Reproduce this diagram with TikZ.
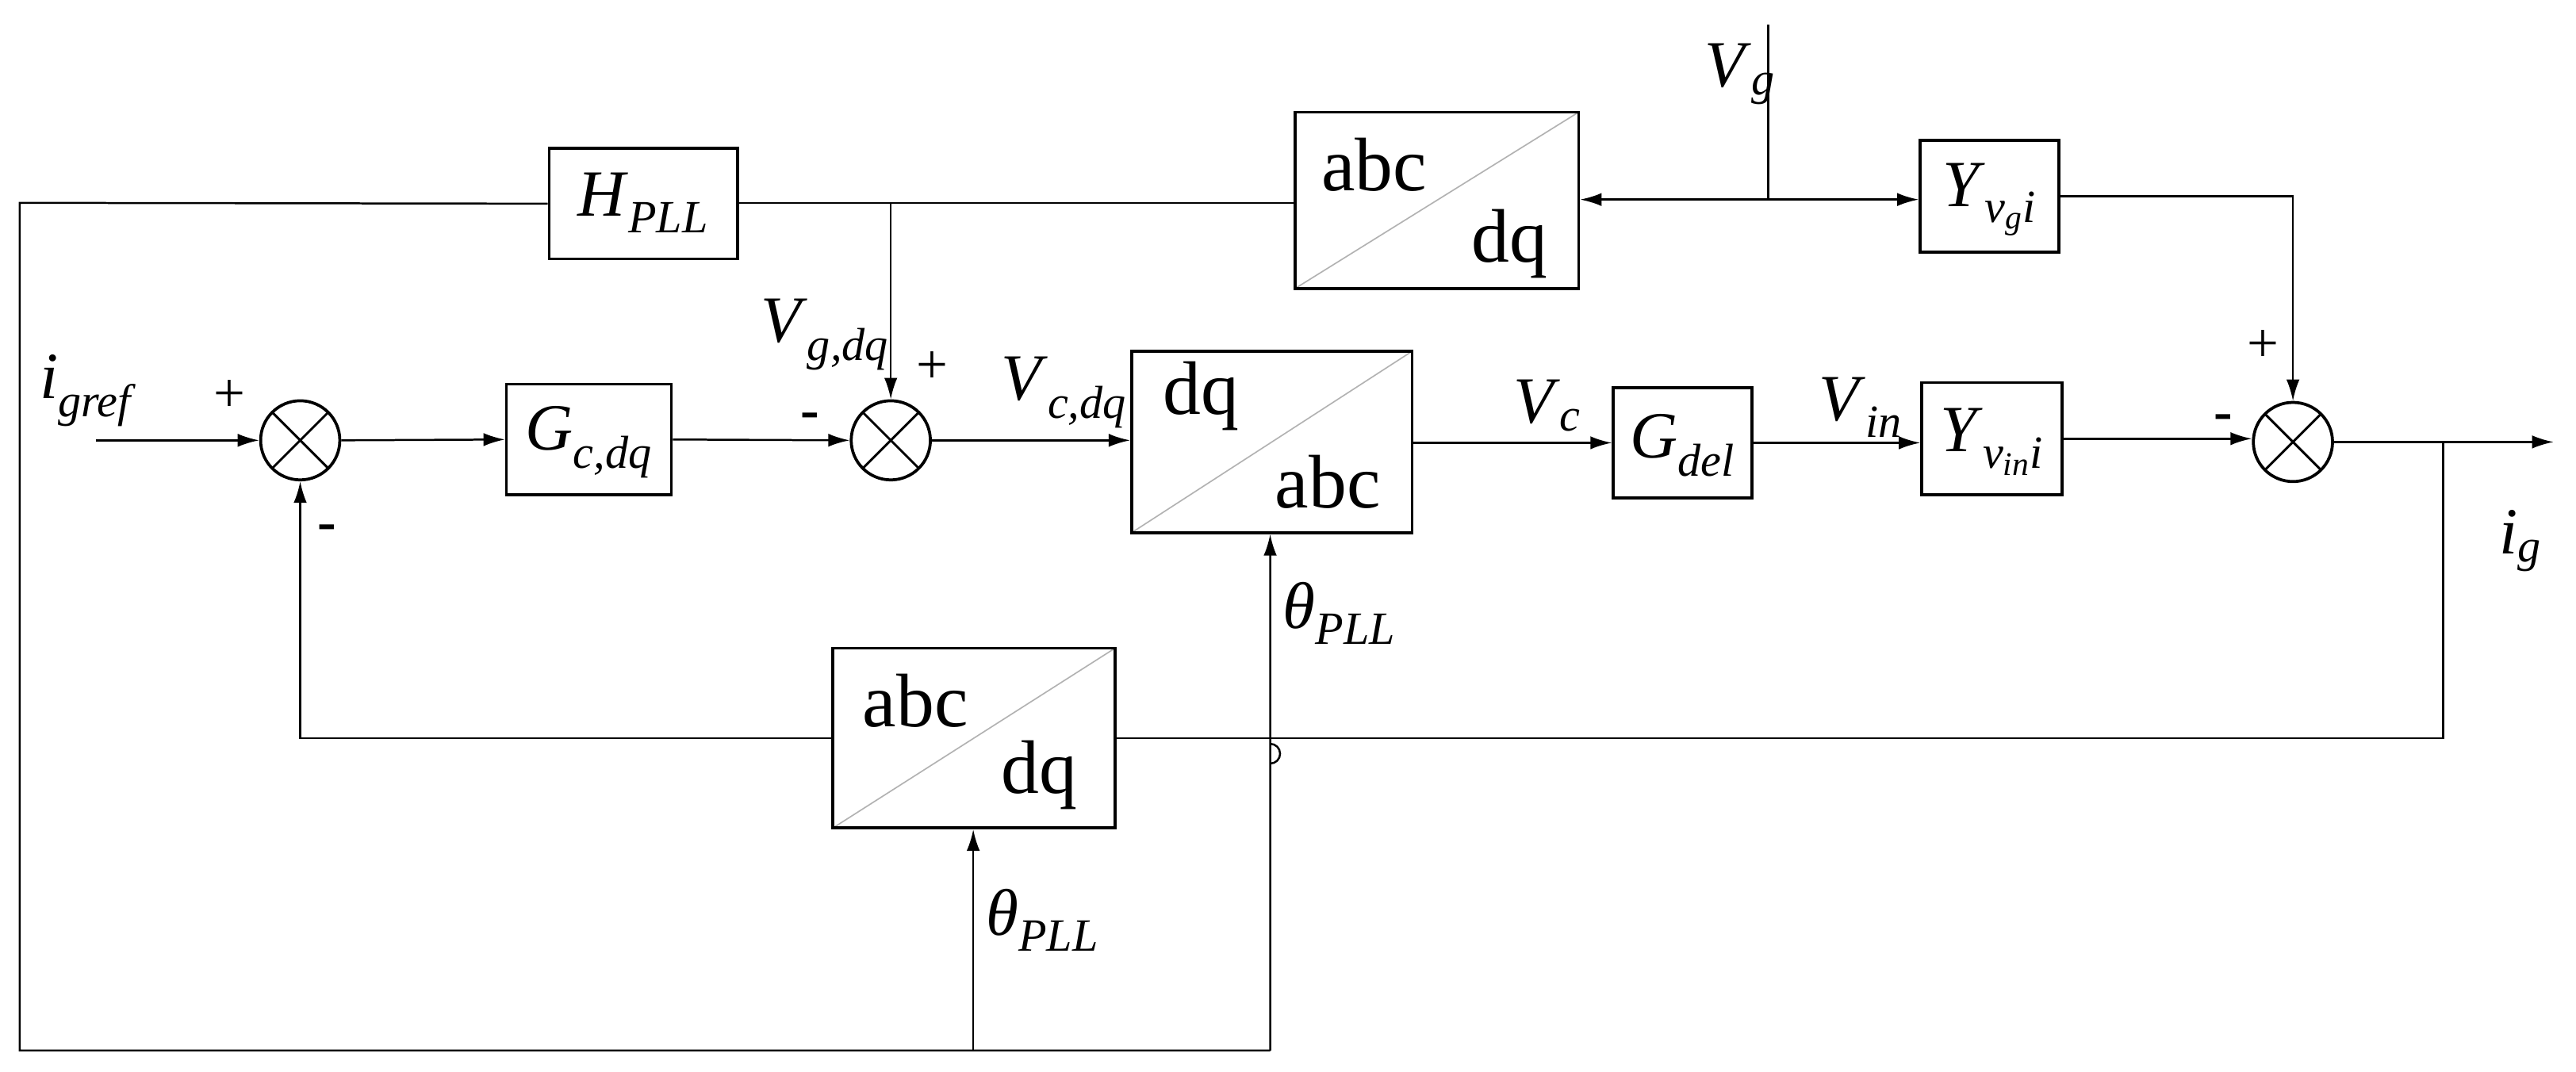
\documentclass[tikz,border=0pt]{standalone}
\usepackage{amsmath}
\usepackage{fontspec}
\setmainfont{Liberation Serif}
\usetikzlibrary{arrows.meta}
\begin{document}
\begin{tikzpicture}[x=1pt,y=-1pt,
  ln/.style={line width=1.2pt},
  arr/.style={ln,-{Latex[length=13pt,width=8pt]}},
  blk/.style={draw,line width=1.8pt,inner sep=0pt},
  conv/.style={blk,path picture={\draw[gray!60,line width=0.8pt](path picture bounding box.south west)--(path picture bounding box.north east);}},
  sumn/.style={draw,circle,line width=1.8pt,minimum size=48pt,inner sep=0pt,path picture={
     \draw[line width=1.4pt](path picture bounding box.south west)--(path picture bounding box.north east)
     (path picture bounding box.north west)--(path picture bounding box.south east);}},
  bt/.style={font=\fontsize{46}{50}\selectfont,inner sep=0pt},
  lb/.style={font=\fontsize{40}{44}\selectfont,inner sep=0pt},
  sg/.style={font=\fontsize{34}{38}\selectfont,inner sep=0pt}]
\useasboundingbox (0,0) rectangle (1561.6,650);
% blocks
\node[blk,minimum width=114pt,minimum height=67pt] (H) at (390,123.5) {};
\node[lb] (Ht) at (390,123) {\textit{H}$_{\textit{PLL}}$};
\node[conv,minimum width=172pt,minimum height=107pt] (T1) at (871,121.5) {};
\node[bt] (T1a) at (833,100) {abc};
\node[bt] (T1b) at (915,148) {dq};
\node[blk,minimum width=84pt,minimum height=68pt] (Yg) at (1206,119) {};
\node[lb] (Ygt) at (1206,121) {\textit{Y}$_{\textit{v}_{\textit{g}}\textit{i}}$};
\node[sumn] (S1) at (182,267) {};
\node[blk,minimum width=100pt,minimum height=67pt] (Gc) at (357,266.5) {};
\node[lb] (Gct) at (357,268) {\textit{G}$_{\textit{c,dq}}$};
\node[sumn] (S2) at (540,267) {};
\node[conv,minimum width=170pt,minimum height=110pt] (T2) at (771,268) {};
\node[bt] (T2a) at (728,240) {dq};
\node[bt] (T2b) at (805,292) {abc};
\node[blk,minimum width=84pt,minimum height=67pt] (Gd) at (1020,268.5) {};
\node[lb] (Gdt) at (1020,270) {\textit{G}$_{\textit{del}}$};
\node[blk,minimum width=85pt,minimum height=68pt] (Yi) at (1207.5,266) {};
\node[lb] (Yit) at (1207.5,268) {\textit{Y}$_{\textit{v}_{\textit{in}}\textit{i}}$};
\node[sumn] (S3) at (1390,268) {};
\node[conv,minimum width=171pt,minimum height=109pt] (T3) at (590.5,447.5) {};
\node[bt] (T3a) at (555,425) {abc};
\node[bt] (T3b) at (630,470) {dq};
% coordinates
\coordinate (in) at (58,267);
\coordinate (out) at (1548,268);
\coordinate (TL) at (12,123);
\coordinate (BL) at (12,637);
\coordinate (vgt) at (1072,15);
\coordinate (vgj) at (1072,121);
\coordinate (br2) at (540,123);
\coordinate (br3) at (1481,268);
\coordinate (th1) at (590,637);
\coordinate (th2) at (770,637);
% connectors
\draw[ln] (H.west) -- (TL) -- (BL) -- (th2);
\draw[arr] (th1) -- (T3.south -| th1);
\draw[arr] (th2) -- (770,451) arc[start angle=90,end angle=-90,radius=6pt] -- (T2.south -| th2);
\draw[ln] (H.east |- br2) -- (T1.west |- br2);
\draw[arr] (br2) -- (S2.north);
\draw[ln] (vgt) -- (vgj);
\draw[arr] (vgj) -- (T1.east |- vgj);
\draw[arr] (vgj) -- (Yg.west |- vgj);
\draw[arr] (Yg.east) -| (S3.north);
\draw[arr] (in) -- (S1.west);
\draw[arr] (S1.east) -- (Gc.west);
\draw[arr] (Gc.east) -- (S2.west);
\draw[arr] (S2.east) -- (T2.west |- S2);
\draw[arr] (T2.east |- Gd) -- (Gd.west);
\draw[arr] (Gd.east) -- (Yi.west |- Gd);
\draw[arr] (Yi.east) -- (S3.west |- Yi);
\draw[arr] (S3.east) -- (out);
\draw[ln] (br3) |- (T3.east);
\draw[arr] (T3.west) -| (S1.south);
% labels
\node[lb] (l1) at (52,237) {\textit{i}$_{\textit{gref}}$};
\node[sg] (p1) at (139,240) {+};
\node[sg] (m1) at (198,323) {\textbf{-}};
\node[lb] (l2) at (500,203) {\textit{V}$_{\textit{g,dq}}$};
\node[sg] (m2) at (491,255) {\textbf{-}};
\node[sg] (p2) at (565,223) {+};
\node[lb] (l3) at (645,238) {\textit{V}$_{\textit{c,dq}}$};
\node[lb] (l4) at (938,246) {\textit{V}$_{\textit{c}}$};
\node[lb] (l5) at (1128,247) {\textit{V}$_{\textit{in}}$};
\node[sg] (m3) at (1348,256) {\textbf{-}};
\node[sg] (p3) at (1372,210) {+};
\node[lb] (l6) at (1055,45) {\textit{V}$_{\textit{g}}$};
\node[lb] (l7) at (1528,328) {\textit{i}$_{\textit{g}}$};
\node[lb] (l8) at (812,372) {\textit{θ}$_{\textit{PLL}}$};
\node[lb] (l9) at (632,558) {\textit{θ}$_{\textit{PLL}}$};
\end{tikzpicture}
\end{document}
